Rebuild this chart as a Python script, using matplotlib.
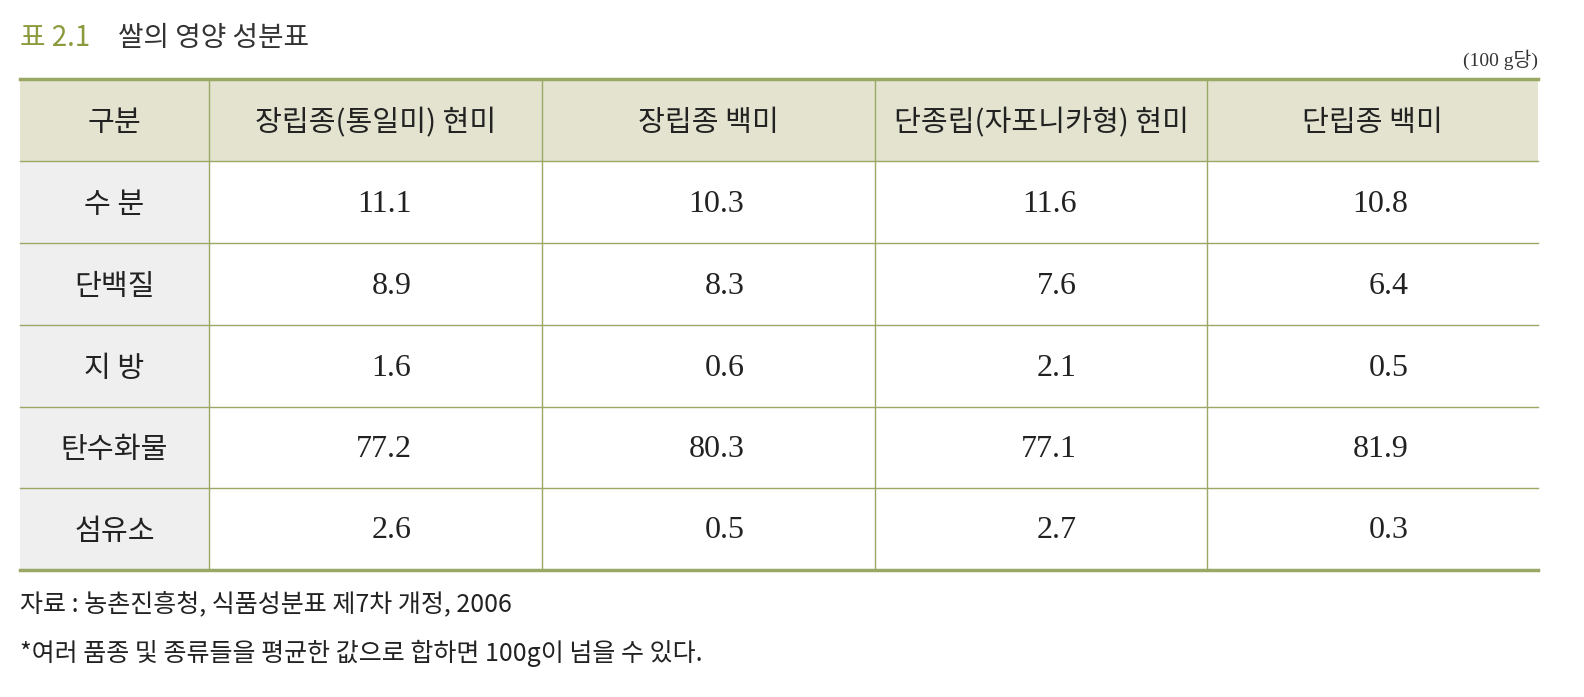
import matplotlib
matplotlib.use("Agg")
import matplotlib.pyplot as plt
from matplotlib.patches import Rectangle

columns = ["구분", "장립종(통일미) 현미", "장립종 백미", "단종립(자포니카형) 현미", "단립종 백미"]
rows = ["수 분", "단백질", "지 방", "탄수화물", "섬유소"]
long_brown = ["11.1", "8.9", "1.6", "77.2", "2.6"]
long_white = ["10.3", "8.3", "0.6", "80.3", "0.5"]
short_brown = ["11.6", "7.6", "2.1", "77.1", "2.7"]
short_white = ["10.8", "6.4", "0.5", "81.9", "0.3"]
series = [long_brown, long_white, short_brown, short_white]

KR = ["Noto Sans CJK KR", "DejaVu Sans"]
SERIF = ["Liberation Serif", "Noto Sans CJK KR"]
LINE = "#9aa866"
HEAD = "#e3e3cf"
FIRST = "#efefef"

fig = plt.figure(figsize=(15.84, 6.97), dpi=100)
ax = fig.add_axes([0, 0, 1, 1])
ax.set_xlim(0, 1584); ax.set_ylim(697, 0); ax.axis("off")

xs = [20, 209, 542, 875, 1207, 1538]
ys = [79, 161, 243, 325, 407, 488, 570]

ax.add_patch(Rectangle((xs[0], ys[0]), xs[-1]-xs[0], ys[1]-ys[0], color=HEAD, lw=0))
ax.add_patch(Rectangle((xs[0], ys[1]), xs[1]-xs[0], ys[-1]-ys[1], color=FIRST, lw=0))

for y in ys[1:-1]:
    ax.plot([xs[0], xs[-1]], [y, y], color=LINE, lw=1.0)
for y in (ys[0], ys[-1]):
    ax.plot([xs[0], xs[-1]], [y, y], color=LINE, lw=2.5)
for x in xs[1:-1]:
    ax.plot([x, x], [ys[0], ys[-1]], color=LINE, lw=1.0)

for j, c in enumerate(columns):
    ax.text((xs[j]+xs[j+1])/2, (ys[0]+ys[1])/2+3, c, ha="center", va="center",
            fontsize=21, family=KR, color="#222222")
for i, r in enumerate(rows):
    yc = (ys[i+1]+ys[i+2])/2
    ax.text((xs[0]+xs[1])/2, yc+3, r, ha="center", va="center", fontsize=21, family=KR, color="#222222")
    for j, s in enumerate(series):
        ax.text((xs[j+1]+xs[j+2])/2+36, yc+2, s[i], ha="right", va="center",
                fontsize=23, family=SERIF, color="#222222")

ax.text(20, 38, "표 2.1", fontsize=20, family=KR, color="#8b9a3c", va="center")
ax.text(118, 38, "쌀의 영양 성분표", fontsize=20, family=KR, color="#333333", va="center")
ax.text(1538, 60, "(100 g당)", fontsize=14, family=SERIF, color="#333333", ha="right", va="center")
ax.text(20, 604, "자료 : 농촌진흥청, 식품성분표 제7차 개정, 2006", fontsize=18, family=KR, color="#222222", va="center")
ax.text(20, 653, "*여러 품종 및 종류들을 평균한 값으로 합하면 100g이 넘을 수 있다.", fontsize=18, family=KR, color="#222222", va="center")

fig.savefig("out.png", dpi=100)
